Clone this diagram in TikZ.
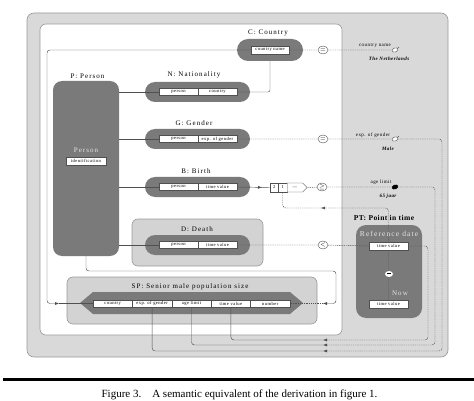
\documentclass[tikz,border=0pt]{standalone}
\usepackage{fontspec}
\setmainfont{Liberation Serif}
\newfontfamily\spc[LetterSpace=15]{Liberation Serif}
\newfontfamily\spcs[LetterSpace=9]{Liberation Serif}
\newfontfamily\spcb[LetterSpace=6]{Liberation Serif}
\usetikzlibrary{arrows.meta,calc,shapes.geometric,shapes.symbols,decorations.markings}
\pgfdeclarelayer{bg}\pgfdeclarelayer{caps}\pgfdeclarelayer{lines}
\pgfsetlayers{bg,caps,lines,main}
\definecolor{cdark}{HTML}{7A7A7A}
\definecolor{cpanel}{HTML}{D9D9D9}
\definecolor{cbox}{HTML}{D3D3D3}
\definecolor{cedge}{HTML}{999999}
\definecolor{cline}{HTML}{505050}
\definecolor{clight}{HTML}{E6E6E6}
\begin{document}
\begin{tikzpicture}[x=1pt,y=-1pt,
  capsule/.style={rectangle, rounded corners=10pt, fill=cdark, minimum width=105pt, minimum height=20pt, inner sep=0pt},
  role/.style={draw=cline, line width=0.3pt, fill=white, minimum width=39pt, minimum height=7pt, inner sep=0pt, font=\spcs\fontsize{4.6}{4.6}\selectfont},
  cell/.style={draw=cline, line width=0.3pt, fill=white, minimum width=8.5pt, minimum height=9pt, inner sep=0pt, font=\fontsize{4.5}{4.5}\selectfont},
  ttl/.style={font=\spc\fontsize{7}{8}\selectfont},
  inl/.style={font=\spc\fontsize{7}{8}\selectfont, text=clight},
  op/.style={ellipse, draw=cline, line width=0.4pt, fill=white, minimum width=10pt, minimum height=8pt, inner sep=0pt, font=\fontsize{6}{6}\selectfont},
  mkr/.style={ellipse, draw=cline, line width=0.4pt, fill=white, minimum width=6pt, minimum height=4pt, inner sep=0pt, rotate=20},
  vlab/.style={font=\spcs\fontsize{5}{5}\selectfont},
  vval/.style={font=\spcs\bfseries\itshape\fontsize{5}{5}\selectfont},
  conn/.style={draw=cline, line width=0.45pt},
  dsh/.style={conn, dash pattern=on 1.3pt off 0.9pt},
  arr/.style={-{Latex[length=4pt,width=3pt]}},
  marrow/.style={postaction={decorate}, decoration={markings, mark=at position #1 with {\arrow{Latex[length=4pt,width=3pt]}}}}
]
\useasboundingbox (0,0) rectangle (474,401);
\begin{pgfonlayer}{bg}
  \fill[white] (0,0) rectangle (474,401);
  \draw[cedge, fill=cpanel, rounded corners=7pt, line width=0.6pt] (27,13) rectangle (448,357);
  \draw[cedge, fill=white, rounded corners=6pt, line width=0.6pt] (40,24) rectangle (342,335);
  \draw[cedge, fill=cbox, rounded corners=6pt, line width=0.6pt] (132,219) rectangle (263,266);
  \draw[cedge, fill=cbox, rounded corners=6pt, line width=0.6pt] (67,277) rectangle (317,324);
\end{pgfonlayer}
\begin{pgfonlayer}{caps}
  \node[capsule, minimum width=66pt, minimum height=22pt, rounded corners=11pt] (Cc) at (270,50) {};
  \node[capsule] (Nc) at (197.5,92) {};
  \node[capsule] (Gc) at (197.5,139) {};
  \node[capsule] (Bc) at (197.5,187) {};
  \node[capsule] (Dc) at (197.5,245) {};
  \node[rectangle, rounded corners=9pt, fill=cdark, minimum width=66pt, minimum height=175pt, inner sep=0pt] (P) at (86,168.5) {};
  \node[rectangle, rounded corners=10pt, fill=cdark, minimum width=66pt, minimum height=93pt, inner sep=0pt] (RD) at (389,271.5) {};
  \fill[cdark] (80,303) -- (93,292) -- (290,292) -- (303,303) -- (290,314) -- (93,314) -- cycle;
\end{pgfonlayer}

% titles
\node[ttl] (tC) at (268,33) {C: Country};
\node[ttl] (tN) at (194,75) {N: Nationality};
\node[ttl] (tG) at (194,123) {G: Gender};
\node[ttl] (tB) at (196,171) {B: Birth};
\node[ttl] (tD) at (197,229) {D: Death};
\node[ttl] (tP) at (87.5,76) {P: Person};
\node[ttl] (tSP) at (190,287) {SP: Senior male population size};
\node[font=\spcb\bfseries\fontsize{7.5}{8}\selectfont] (tPT) at (384,218) {PT: Point in time};

% roles
\node[role, minimum width=38pt, minimum height=8pt] (Ccn) at (270,50) {country name};
\node[role] (Nper) at (178.5,92) {person};
\node[role] (Ncty) at (217.5,92) {country};
\node[role] (Gper) at (178.5,139) {person};
\node[role] (Gexp) at (217.5,139) {exp. of gender};
\node[role] (Bper) at (178.5,187) {person};
\node[role] (Btv) at (217.5,187) {time value};
\node[role] (Dper) at (178.5,245) {person};
\node[role] (Dtv) at (217.5,245) {time value};

\node[inl] (tPer) at (86,150) {Person};
\node[role, minimum width=40pt, minimum height=8pt] (Pid) at (86,161) {identification};

\node[inl, font=\spc\fontsize{7.5}{8}\selectfont] (tRD) at (389,234) {Reference date};
\node[role, minimum height=8pt] (RDtv) at (388.5,246) {time value};
\node[ellipse, fill=white, minimum width=8pt, minimum height=6pt, inner sep=0pt] (minus) at (389,274) {\rule[0.2pt]{3.6pt}{1pt}};
\node[inl] (tNow) at (400,293) {Now};
\node[role, minimum height=8pt] (NowTV) at (388.5,304) {time value};

\node[role, minimum width=39.4pt] (SPc) at (112.7,303.5) {country};
\node[role, minimum width=39.4pt] (SPe) at (152.1,303.5) {exp. of gender};
\node[role, minimum width=39.4pt] (SPa) at (191.5,303.5) {age limit};
\node[role, minimum width=39.4pt] (SPt) at (230.9,303.5) {time value};
\node[role, minimum width=39.4pt] (SPn) at (270.3,303.5) {number};

% operator cells
\node[cell] (n2) at (274.25,187.5) {2};
\node[cell] (n1) at (282.75,187.5) {1};
\node[signal, signal to=east, draw=cline, line width=0.3pt, fill=white, minimum width=20pt, minimum height=9pt, inner sep=0pt, font=\fontsize{4.5}{4.5}\selectfont, anchor=west] (nm) at (287,187.5) {---};

\node[op] (eqC) at (323,50) {$=$};
\node[op] (eqG) at (323,139) {$=$};
\node[op] (geB) at (322,187) {$\geq$};
\node[op] (ltD) at (323,245) {$<$};

\node[mkr] (mC) at (395,50) {};
\node[mkr] (mG) at (395,139) {};
\node[mkr, fill=black, draw=black] (mB) at (395,187) {};

\node[vlab] (lC) at (375,46) {country name};
\node[vval] (vC) at (389,59) {The Netherlands};
\node[vlab] (lG) at (373,135) {exp. of gender};
\node[vval] (vG) at (388,148.5) {Male};
\node[vlab] (lB) at (381,182.5) {age limit};
\node[vval] (vB) at (388,196) {65 jaar};

% connectors
\begin{pgfonlayer}{lines}
  \draw[conn] (P.east |- Nper.west) -- (Nper.west);
  \draw[conn] (P.east |- Gper.west) -- (Gper.west);
  \draw[conn] (P.east |- Bper.west) -- (Bper.west);
  \draw[conn] (P.east |- Dper.west) -- (Dper.west);
  \draw[conn, rounded corners=2pt] (Ncty.east) -| (Cc.south);

  \coordinate (aC) at (59,303.5);
  \draw[conn, arr, rounded corners=3pt] (Ccn.west) -| (47,303.5) -- (aC);
  \draw[conn] (aC) -- (SPc.west);

  \coordinate (aN) at (323,303.5);
  \draw[conn, arr, rounded corners=3pt] (P.south) |- (336,271) |- (aN);
  \draw[dsh] (aN) -- (SPn.east);

  \draw[dsh] (Ccn.east) -- (eqC) -- (mC);
  \draw[conn] (mC.center) ++(-1,1.5) -- ++(5,-4.5);

  \draw[dsh] (Gexp.east) -- (eqG) -- (mG);
  \draw[conn] (mG.center) ++(-1,1.5) -- ++(5,-4.5);
  \coordinate (aG) at (323,351);
  \draw[dsh, arr, rounded corners=3pt] (mG) -| (442,351) -- (aG);
  \draw[conn, rounded corners=3pt] (aG) -| (SPe.south);

  \draw[conn, marrow=0.76] (Btv.east) -- (n2.west);
  \draw[dsh] (nm.east) -- (geB) -- (mB);
  \coordinate (aB) at (323,345);
  \draw[dsh, arr, rounded corners=3pt] (mB) -| (435,345) -- (aB);
  \draw[conn, rounded corners=3pt] (aB) -| (SPa.south);

  \coordinate (aT) at (321,208);
  \draw[dsh, arr, rounded corners=3pt] (NowTV.north) |- (aT);
  \draw[dsh, rounded corners=3pt] (aT) -| (n1.south);

  \draw[dsh] (Dtv.east) -- (ltD) -- (RDtv.west);
  \coordinate (aR) at (323,340);
  \draw[dsh, arr, rounded corners=3pt] (RDtv.east) -| (428,340) -- (aR);
  \draw[conn, rounded corners=3pt] (aR) -| (SPt.south);
\end{pgfonlayer}

% caption
\draw[line width=3pt] (3,379.5) -- (474,379.5);
\node[font=\fontsize{11}{12}\selectfont] (cap) at (239.5,395) {Figure 3.\hspace{1em}A semantic equivalent of the derivation in figure 1.};
\end{tikzpicture}
\end{document}
